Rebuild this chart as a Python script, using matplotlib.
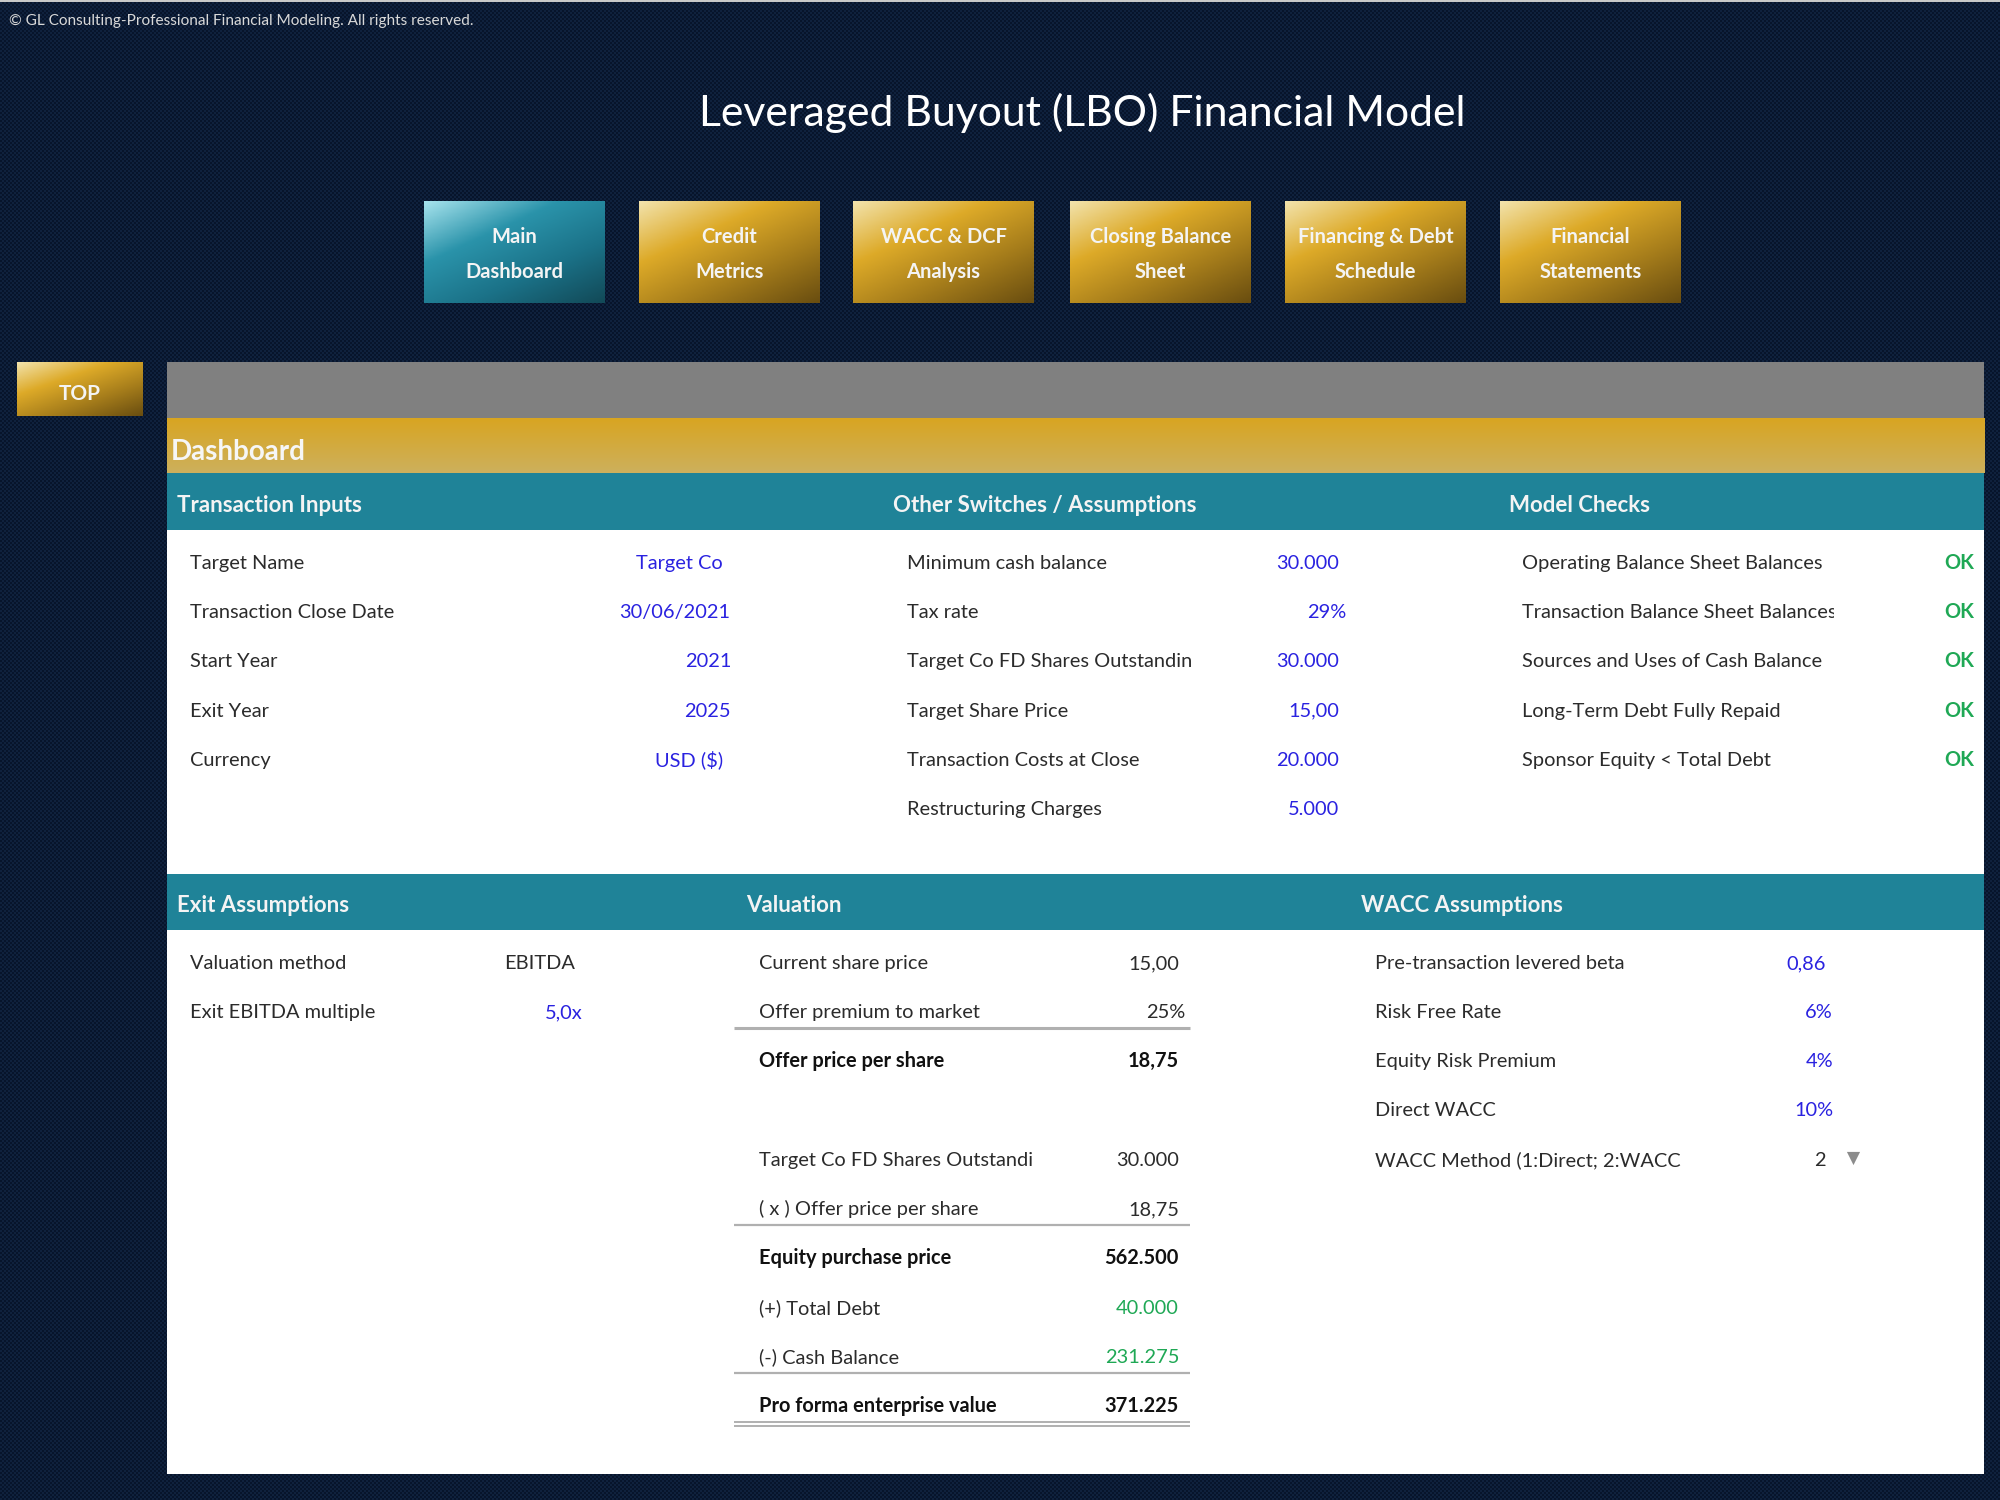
import numpy as np
import matplotlib
matplotlib.use('Agg')
import matplotlib.pyplot as plt
from matplotlib.colors import LinearSegmentedColormap
from matplotlib.patches import Rectangle

# ---------------------------
# Text and values of the dashboard
# ---------------------------
title = 'Leveraged Buyout (LBO) Financial Model'
copyright_note = '© GL Consulting-Professional Financial Modeling. All rights reserved.'

button_labels = ['Main\nDashboard', 'Credit\nMetrics', 'WACC & DCF\nAnalysis',
                 'Closing Balance\nSheet', 'Financing & Debt\nSchedule', 'Financial\nStatements']

input_labels = ['Target Name', 'Transaction Close Date', 'Start Year', 'Exit Year', 'Currency']
input_values = ['Target Co', '30/06/2021', '2021', '2025', 'USD ($)']

switch_labels = ['Minimum cash balance', 'Tax rate', 'Target Co FD Shares Outstandin',
                 'Target Share Price', 'Transaction Costs at Close', 'Restructuring Charges']
switch_values = ['30.000', '29%', '30.000', '15,00', '20.000', '5.000']

check_labels = ['Operating Balance Sheet Balances', 'Transaction Balance Sheet Balances',
                'Sources and Uses of Cash Balance', 'Long-Term Debt Fully Repaid',
                'Sponsor Equity < Total Debt']
check_values = ['OK', 'OK', 'OK', 'OK', 'OK']

exit_labels = ['Valuation method', 'Exit EBITDA multiple']
exit_values = ['EBITDA', '5,0x']

valuation_labels = ['Current share price', 'Offer premium to market', 'Offer price per share', '',
                    'Target Co FD Shares Outstandi', '( x ) Offer price per share',
                    'Equity purchase price', '(+) Total Debt', '(-) Cash Balance',
                    'Pro forma enterprise value']
valuation_values = ['15,00', '25%', '18,75', '', '30.000', '18,75',
                    '562.500', '40.000', '231.275', '371.225']
valuation_bold = [2, 6, 9]
valuation_green = [7, 8]

wacc_labels = ['Pre-transaction levered beta', 'Risk Free Rate', 'Equity Risk Premium',
               'Direct WACC', 'WACC Method (1:Direct; 2:WACC']
wacc_values = ['0,86', '6%', '4%', '10%', '2']

# ---------------------------
# Colours and layout (pixels of the 2000x1500 picture)
# ---------------------------
plt.rcParams['font.family'] = ['Lato', 'DejaVu Sans']

BLUE = '#2a22e0'
GREEN = '#1fa855'
DARK = '#2b2b2b'
TEAL = '#1f8398'
GREY = '#808080'

gold_cmap = LinearSegmentedColormap.from_list('gold', ['#f2e2aa', '#ddaa28', '#a67d1b', '#6a4e10'])
teal_cmap = LinearSegmentedColormap.from_list('teal', ['#a5e2ec', '#2a93aa', '#1b7288', '#124a58'])
band_cmap = LinearSegmentedColormap.from_list('band', ['#d8a522', '#cdb05c'])

row_y = [561, 610, 659, 708.5, 758, 807]
low_y = [961, 1010, 1059, 1108, 1158, 1207, 1256, 1306, 1355, 1404]
button_x = [424, 639, 853, 1070, 1285, 1500]
BUTTON_W = 181

fig = plt.figure(figsize=(20, 15), dpi=100)
ax = fig.add_axes([0, 0, 1, 1])
ax.set_xlim(0, 2000)
ax.set_ylim(1500, 0)
ax.axis('off')

# Dithered navy background
yy, xx = np.indices((750, 1000))
checker = (xx + yy) % 2
back = np.where(checker[..., None] == 0, [0.03, 0.08, 0.17], [0.06, 0.13, 0.24])
ax.imshow(back, extent=(0, 2000, 1500, 0), interpolation='nearest', aspect='auto', zorder=0)
ax.add_patch(Rectangle((0, 0), 2000, 2, color='#c8c8c8', lw=0, zorder=1))


def gradient_box(x0, y0, x1, y1, cmap):
    # diagonal gradient from top-left to bottom-right
    v, u = np.mgrid[0:1:60j, 0:1:60j]
    ax.imshow(0.45 * u + 0.55 * v, extent=(x0, x1, y1, y0), cmap=cmap, vmin=0, vmax=1,
              aspect='auto', interpolation='bilinear', zorder=2)


def label(x, y, s, color=DARK, ha='left', size=14.4, bold=False):
    # baseline anchored so that rows do not jitter with descenders
    return ax.text(x, y + 0.5 * size + 1, s, color=color, ha=ha, va='baseline', fontsize=size,
                   fontweight='bold' if bold else 'normal', zorder=5)


# Title and copyright
label(1082, 110, title, color='white', ha='center', size=30.8)
label(9, 18, copyright_note, color='#d8d8d8', size=11.1)

# Navigation buttons
for i, (x, text) in enumerate(zip(button_x, button_labels)):
    gradient_box(x, 201, x + BUTTON_W, 303, teal_cmap if i == 0 else gold_cmap)
    top, bottom = text.split('\n')
    label(x + BUTTON_W / 2, 235, top, color='#f4f4f4', ha='center', size=14.5, bold=True)
    label(x + BUTTON_W / 2, 270, bottom, color='#f4f4f4', ha='center', size=14.5, bold=True)

gradient_box(17, 362, 143, 416, gold_cmap)
label(80, 391, 'TOP', color='#f4f4f4', ha='center', size=15, bold=True)

# Panels and bands
ax.add_patch(Rectangle((166.5, 362), 1817.5, 1112, color='white', lw=0, zorder=1))
ax.add_patch(Rectangle((166.5, 362), 1817.5, 56, color=GREY, lw=0, zorder=2))
v = np.linspace(0, 1, 40).reshape(-1, 1)
ax.imshow(v, extent=(166.5, 1984, 473, 418), cmap=band_cmap, aspect='auto', zorder=2)
ax.add_patch(Rectangle((166.5, 473), 1817.5, 57, color=TEAL, lw=0, zorder=2))
ax.add_patch(Rectangle((166.5, 874), 1817.5, 56, color=TEAL, lw=0, zorder=2))
ax.set_xlim(0, 2000)
ax.set_ylim(1500, 0)

label(171, 449, 'Dashboard', color='#f6f6f6', size=20, bold=True)
for x, y, s in [(177, 503, 'Transaction Inputs'), (893, 503, 'Other Switches / Assumptions'),
                (1509, 503, 'Model Checks'), (177, 903, 'Exit Assumptions'),
                (746, 903, 'Valuation'), (1361, 903, 'WACC Assumptions')]:
    label(x, y, s, color='#f4f4f4', size=16, bold=True)

# Transaction inputs
input_right = [723, 730, 731, 731, 723]
for y, name, val, right in zip(row_y, input_labels, input_values, input_right):
    label(190, y, name)
    label(right, y, val, color=BLUE, ha='right')

# Other switches
switch_right = [1339, 1346, 1339, 1339, 1339, 1339]
for y, name, val, right in zip(row_y, switch_labels, switch_values, switch_right):
    label(907, y, name)
    label(right, y, val, color=BLUE, ha='right')

# Model checks, the second label is cut off by its cell
check_clip = Rectangle((1500, 520), 334, 300, transform=ax.transData)
for y, name, val in zip(row_y, check_labels, check_values):
    t = label(1522, y, name)
    t.set_clip_path(check_clip)
    t.set_clip_on(True)
    label(1974, y, val, color=GREEN, ha='right', bold=True)

# Exit assumptions
label(190, low_y[0], exit_labels[0])
label(575, low_y[0], exit_values[0], ha='right')
label(190, low_y[1], exit_labels[1])
label(583, low_y[1], exit_values[1], color=BLUE, ha='right')

# Valuation
for i, (y, name, val) in enumerate(zip(low_y, valuation_labels, valuation_values)):
    if not name:
        continue
    bold = i in valuation_bold
    color = GREEN if i in valuation_green else DARK
    right = 1185 if i == 1 else 1179
    label(759, y, name, bold=bold, color='#111111' if bold else DARK)
    label(right, y, val, color='#111111' if bold else color, ha='right', bold=bold)

for y, lw in [(1028, 2.2), (1225, 1.6), (1373, 1.6), (1422, 1.4), (1426, 1.4)]:
    ax.plot([734, 1190], [y, y], color='#b0b0b0', lw=lw, solid_capstyle='butt', zorder=4)

# WACC assumptions
wacc_right = [1826, 1833, 1833, 1833, 1826]
for i, (y, name, val, right) in enumerate(zip(low_y, wacc_labels, wacc_values, wacc_right)):
    label(1375, y, name)
    label(right, y, val, color=DARK if i == 4 else BLUE, ha='right')
ax.scatter([1853], [low_y[4]], marker='v', s=90, color='#8c8c8c', linewidths=0, zorder=5)

fig.savefig('out.png', dpi=100)
